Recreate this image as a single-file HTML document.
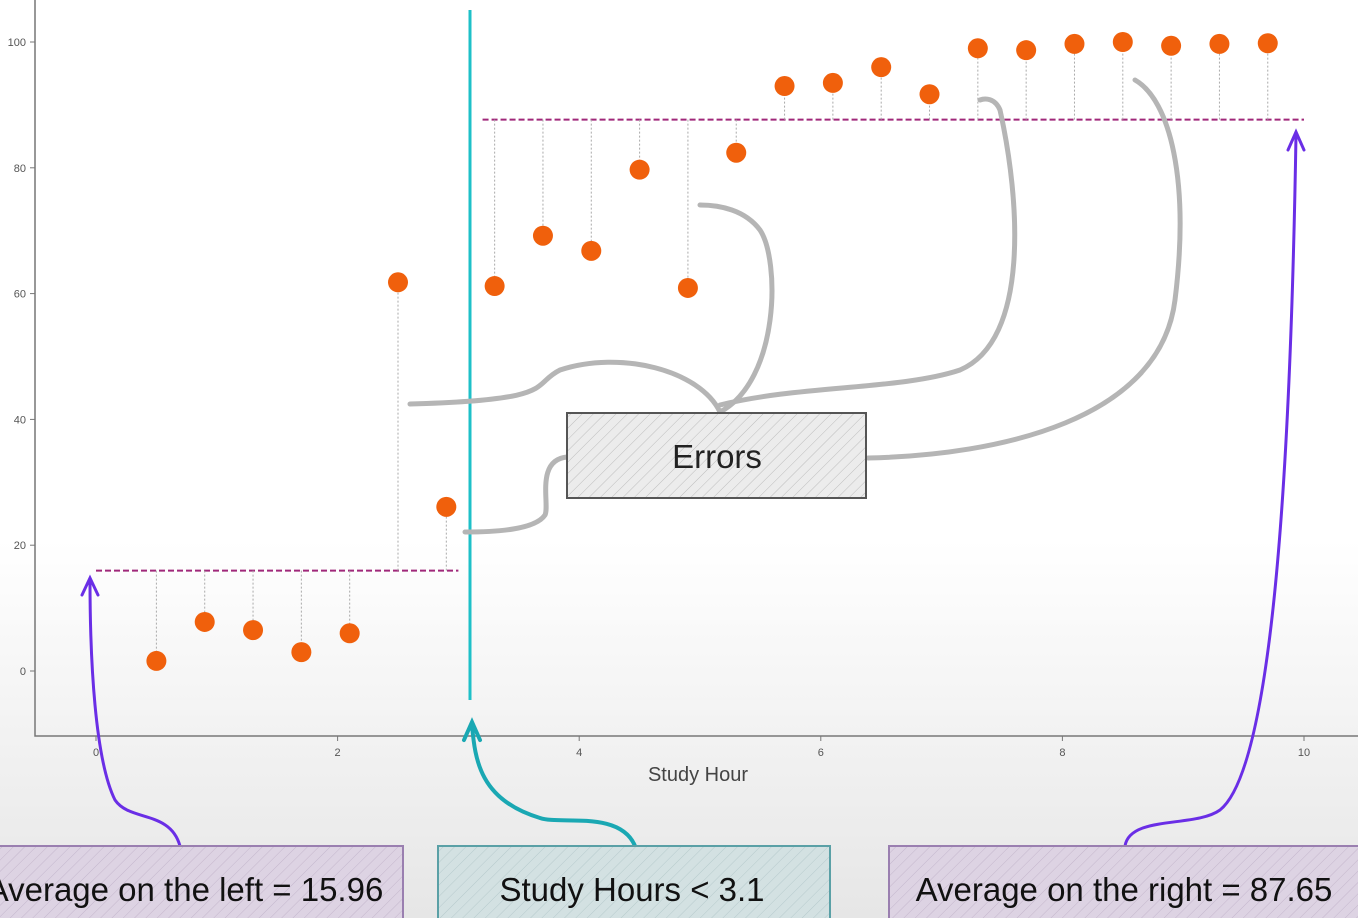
<!DOCTYPE html>
<html><head><meta charset="utf-8"><style>
html,body{margin:0;padding:0;width:1358px;height:918px;overflow:hidden;background:linear-gradient(#fff 0px,#fff 540px,#e6e6e6 918px);font-family:"Liberation Sans",sans-serif}
svg{display:block}
</style></head><body>
<svg id="chart" width="1358" height="918">
<defs>
<pattern id="hatch" width="8" height="8" patternUnits="userSpaceOnUse" patternTransform="rotate(45)"><rect width="8" height="8" fill="#ececec"/><line x1="0" y1="0" x2="0" y2="8" stroke="#bdbdbd" stroke-width="1"/></pattern>
<pattern id="hatchP" width="8" height="8" patternUnits="userSpaceOnUse" patternTransform="rotate(45)"><rect width="8" height="8" fill="#ddd3e3"/><line x1="0" y1="0" x2="0" y2="8" stroke="#c4b6cc" stroke-width="1"/></pattern>
<pattern id="hatchT" width="8" height="8" patternUnits="userSpaceOnUse" patternTransform="rotate(45)"><rect width="8" height="8" fill="#d3e1e2"/><line x1="0" y1="0" x2="0" y2="8" stroke="#b6cacc" stroke-width="1"/></pattern>
</defs>
<g id="plot"></g>
<g fill="none" stroke-linecap="round">
<path d="M720 412 C700 370 620 350 560 370 C530 385 560 400 410 404" stroke="#b5b5b5" stroke-width="5"/>
<path d="M720 412 C780 380 780 260 760 230 C745 210 720 205 700 205" stroke="#b5b5b5" stroke-width="5"/>
<path d="M720 405 C800 385 900 390 960 370 C1030 340 1020 200 1000 110 C995 98 985 98 980 100" stroke="#b5b5b5" stroke-width="5"/>
<path d="M868 458 C1000 455 1160 420 1175 300 C1190 180 1170 100 1135 80" stroke="#b5b5b5" stroke-width="5"/>
<path d="M567 457 C535 460 550 505 545 515 C535 530 495 532 465 532" stroke="#b5b5b5" stroke-width="5"/>
<path d="M180 846 C170 810 130 822 115 800 C95 760 90 660 90 580" stroke="#6a2ee6" stroke-width="3"/>
<path d="M82 595 L90 578 L98 595" stroke="#6a2ee6" stroke-width="3"/>
<path d="M635 846 C620 810 560 825 540 818 C480 800 475 760 472 725" stroke="#1aa8b3" stroke-width="4"/>
<path d="M464 740 L472 722 L480 740" stroke="#1aa8b3" stroke-width="4"/>
<path d="M1125 846 C1130 815 1195 828 1220 810 C1270 770 1290 500 1296 135" stroke="#6a2ee6" stroke-width="3"/>
<path d="M1288 150 L1296 132 L1304 150" stroke="#6a2ee6" stroke-width="3"/>
</g>
<g>
<rect x="567" y="413" width="299" height="85" fill="url(#hatch)" stroke="#555" stroke-width="2"/>
<text x="717" y="468" text-anchor="middle" font-size="33" fill="#222">Errors</text>
</g>
<g>
<rect x="-10" y="846" width="413" height="80" fill="url(#hatchP)" stroke="#9a7fb0" stroke-width="2"/>
<text x="185" y="901" text-anchor="middle" font-size="33" fill="#111">Average on the left = 15.96</text>
</g>
<g>
<rect x="438" y="846" width="392" height="80" fill="url(#hatchT)" stroke="#5aa0a6" stroke-width="2"/>
<text x="632" y="901" text-anchor="middle" font-size="33" fill="#111">Study Hours &lt; 3.1</text>
</g>
<g>
<rect x="889" y="846" width="480" height="80" fill="url(#hatchP)" stroke="#9a7fb0" stroke-width="2"/>
<text x="1124" y="901" text-anchor="middle" font-size="33" fill="#111">Average on the right = 87.65</text>
</g>
</svg>
<script>
const xs = [0.5,0.9,1.3,1.7,2.1,2.5,2.9,3.3,3.7,4.1,4.5,4.9,5.3,5.7,6.1,6.5,6.9,7.3,7.7,8.1,8.5,8.9,9.3,9.7];
const ys = [1.6,7.8,6.5,3.0,6.0,61.8,26.1,61.2,69.2,66.8,79.7,60.9,82.4,93.0,93.5,96.0,91.7,99.0,98.7,99.7,100,99.4,99.7,99.8];
const splitX = 3.1;
const leftAvg = 15.96;
const rightAvg = 87.65;
const xTicks = [0,2,4,6,8,10];
const yTicks = [0,20,40,60,80,100];
const sx = v => 96 + v*120.8;
const sy = v => 671 - v*6.29;
const NS = "http://www.w3.org/2000/svg";
const g = document.getElementById('plot');
function mk(tag, attrs){const e=document.createElementNS(NS,tag);for(const k in attrs)e.setAttribute(k,attrs[k]);g.appendChild(e);return e;}
let e;
e = mk('path',{d:'M35 0 L35 736 L1358 736',fill:'none',stroke:'#777','stroke-width':1.5});


xTicks.forEach(t=>{
  e = mk('line',{x1:sx(t),x2:sx(t),y1:736,y2:741,stroke:'#777'});
  
  
  e = mk('text',{x:sx(t),y:756,'text-anchor':'middle','font-size':11,fill:'#555'});e.textContent=t;
  
  
});
yTicks.forEach(t=>{
  e = mk('line',{x1:30,x2:35,y1:sy(t),y2:sy(t),stroke:'#777'});
  
  
  e = mk('text',{x:26,y:sy(t)+4,'text-anchor':'end','font-size':11,fill:'#555'});e.textContent=t;
  
  
});
e = mk('text',{x:698,y:781,'text-anchor':'middle','font-size':20,fill:'#444'});e.textContent='Study Hour';


e = mk('line',{x1:sx(0),x2:sx(3.0),y1:sy(leftAvg),y2:sy(leftAvg),stroke:'#a0287a','stroke-width':2,'stroke-dasharray':'6,3'});


e = mk('line',{x1:sx(3.2),x2:sx(10),y1:sy(rightAvg),y2:sy(rightAvg),stroke:'#a0287a','stroke-width':2,'stroke-dasharray':'6,3'});


xs.forEach((x,i)=>{
  const avg = x < splitX ? leftAvg : rightAvg;
  e = mk('line',{x1:sx(x),x2:sx(x),y1:sy(avg),y2:sy(ys[i]),stroke:'#aaa','stroke-width':1,'stroke-dasharray':'2,2'});
  
  
});
xs.forEach((x,i)=>{
  e = mk('circle',{cx:sx(x),cy:sy(ys[i]),r:10,fill:'#f0600c'});
  
  
});
e = mk('line',{x1:470,x2:470,y1:10,y2:700,stroke:'#1ec0c8','stroke-width':3});


</script>
</body></html>
